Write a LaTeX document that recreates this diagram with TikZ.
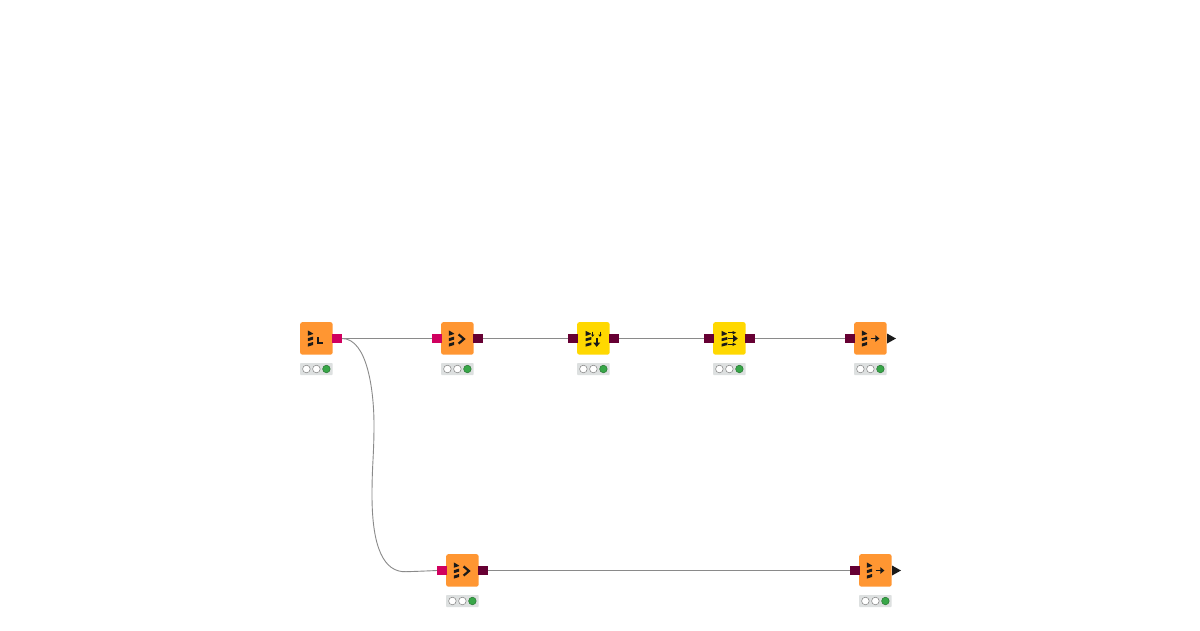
\documentclass[tikz,border=0pt]{standalone}
\usepackage{tikz}
\usetikzlibrary{calc}
\definecolor{manip}{HTML}{FF9632}
\definecolor{splitter}{HTML}{FFD800}
\definecolor{portin}{HTML}{D0005F}
\definecolor{portdark}{HTML}{660033}
\definecolor{statusbg}{HTML}{DDE0E0}
\definecolor{statusgreen}{HTML}{38A748}
\definecolor{wire}{HTML}{8A8A8A}
\definecolor{glyph}{HTML}{1A1A1A}
\tikzset{
  bodybox/.style={draw=none,rounded corners=2.4pt,minimum size=32.6pt,inner sep=0pt,outer sep=0pt},
  portbox/.style={draw=none,minimum width=10pt,minimum height=9.5pt,inner sep=0pt,outer sep=0pt},
  statusbar/.style={fill=statusbg,draw=none,rounded corners=.8pt,minimum width=32.6pt,minimum height=12pt,inner sep=0pt},
  lamp/.style={circle,draw=black!50,line width=.5pt,fill=white,minimum size=7.6pt,inner sep=0pt},
  lampon/.style={lamp,fill=statusgreen,draw=statusgreen!70!black},
  wireline/.style={draw=wire,line width=.9pt},
  column/.pic={
    \fill[glyph] (-8.6,-8) -- (-3.4,-5) -- (-3.4,-4.4) -- (-8.6,-2.6) -- cycle;
    \fill[glyph] (-8.6,-.2) -- (-3.4,-1.8) -- (-3.4,1.2) -- (-8.6,2.8) -- cycle;
    \fill[glyph] (-8.6,5.2) -- (-3.4,3.6) -- (-3.4,6.6) -- (-8.6,8.2) -- cycle;
  },
  smallcolumn/.pic={
    \fill[glyph] (-7.8,-7.6) -- (-2.6,-5) -- (-2.6,-4.2) -- (-7.8,-2.4) -- cycle;
    \fill[glyph] (-7.8,0) -- (-2,-1.4) -- (-2,1.2) -- (-7.8,2.8) -- cycle;
    \fill[glyph] (-7.8,5.4) -- (-2,4) -- (-2,6.6) -- (-7.8,8.2) -- cycle;
  }
}
% status bar with three lamps under a node
\newcommand{\statuslamps}[1]{
\node[statusbar] (#1bar) at ($(#1)+(0,30.6)$) {};
\node[lamp] (#1a) at ($(#1bar)+(-10,0)$) {};
\node[lamp] (#1b) at (#1bar) {};
\node[lampon] (#1c) at ($(#1bar)+(10,0)$) {};
}
\begin{document}
\begin{tikzpicture}[x=1pt,y=-1pt]
\useasboundingbox[fill=white] (0,0) rectangle (1200,630);

% upper row
\node[bodybox,fill=manip] (source) at (316.4,338.4) {};
\node[bodybox,fill=manip] (filterone) at (457.4,338.4) {};
\node[bodybox,fill=splitter] (splitdown) at (593.4,338.4) {};
\node[bodybox,fill=splitter] (splitright) at (729.4,338.4) {};
\node[bodybox,fill=manip] (writerone) at (870.4,338.4) {};
% lower row
\node[bodybox,fill=manip] (filtertwo) at (462.4,570.4) {};
\node[bodybox,fill=manip] (writertwo) at (875.4,570.4) {};

\statuslamps{source}
\statuslamps{filterone}
\statuslamps{splitdown}
\statuslamps{splitright}
\statuslamps{writerone}
\statuslamps{filtertwo}
\statuslamps{writertwo}

% ports
\node[portbox,fill=portin] (sourceout) at ($(source)+(20.6,0.1)$) {};
\node[portbox,fill=portin] (filteronein) at ($(filterone)-(20.6,-0.1)$) {};
\node[portbox,fill=portdark] (filteroneout) at ($(filterone)+(20.6,0.1)$) {};
\node[portbox,fill=portdark] (splitdownin) at ($(splitdown)-(20.6,-0.1)$) {};
\node[portbox,fill=portdark] (splitdownout) at ($(splitdown)+(20.6,0.1)$) {};
\node[portbox,fill=portdark] (splitrightin) at ($(splitright)-(20.6,-0.1)$) {};
\node[portbox,fill=portdark] (splitrightout) at ($(splitright)+(20.6,0.1)$) {};
\node[portbox,fill=portdark] (writeronein) at ($(writerone)-(20.6,-0.1)$) {};
\node[portbox,fill=portin] (filtertwoin) at ($(filtertwo)-(20.6,-0.1)$) {};
\node[portbox,fill=portdark] (filtertwoout) at ($(filtertwo)+(20.6,0.1)$) {};
\node[portbox,fill=portdark] (writertwoin) at ($(writertwo)-(20.6,-0.1)$) {};

\coordinate (writeronetip) at ($(writerone)+(16.6,0)$);
\coordinate (writertwotip) at ($(writertwo)+(16.6,0)$);
\foreach \t in {writeronetip,writertwotip}
  \fill[glyph] ($(\t)+(0,-4.9)$) -- ($(\t)+(9,0.1)$) -- ($(\t)+(0,5.1)$) -- cycle;

% connectors
\draw[wireline] (sourceout.east) -- (filteronein.west);
\draw[wireline] (filteroneout.east) -- (splitdownin.west);
\draw[wireline] (splitdownout.east) -- (splitrightin.west);
\draw[wireline] (splitrightout.east) -- (writeronein.west);
\draw[wireline] (filtertwoout.east) -- (writertwoin.west);
\draw[wireline] (sourceout.east) .. controls +(26,0) and +(0,-32) .. (374,425)
  .. controls (374,455) and (372,465) .. (372,495)
  .. controls (372,548) and (384,572.5) .. (406,571.7)
  .. controls (416,571.4) and (426,571) .. (filtertwoin.west);

% icons
\foreach \n in {source,filterone,writerone,filtertwo,writertwo}
  \path (\n) pic {column};
\foreach \n in {splitdown,splitright}
  \path (\n) pic {smallcolumn};

% L on the source
\draw[glyph,line width=2.2pt] ($(source)+(1.6,-1.4)$) -- ($(source)+(1.6,4.2)$) -- ($(source)+(6.4,4.2)$);
% chevrons
\foreach \n in {filterone,filtertwo}
  \draw[glyph,line width=2.2pt] ($(\n)+(1.2,-4)$) -- ($(\n)+(6.6,.6)$) -- ($(\n)+(1.2,5.2)$);
% right arrows
\foreach \n in {writerone,writertwo} {
  \draw[glyph,line width=1.7pt] ($(\n)+(.3,0.1)$) -- ($(\n)+(6,0.1)$);
  \fill[glyph] ($(\n)+(5,-3.2)$) -- ($(\n)+(9,0.1)$) -- ($(\n)+(5,3.4)$) -- cycle;
}
% split down
\draw[glyph,line width=1.7pt] ($(splitdown)+(3.3,-.4)$) -- ($(splitdown)+(3.3,5)$);
\fill[glyph] ($(splitdown)+(-.2,4.2)$) -- ($(splitdown)+(6.8,4.2)$) -- ($(splitdown)+(3.3,8.4)$) -- cycle;
\foreach \dx in {-.7,6.6} {
  \draw[glyph,line width=.9pt] ($(splitdown)+(\dx,-6.8)$) -- ($(splitdown)+(\dx,-3.4)$);
  \fill[glyph] ($(splitdown)+(\dx-1.7,-3.8)$) -- ($(splitdown)+(\dx+1.7,-3.8)$) -- ($(splitdown)+(\dx,-1.6)$) -- cycle;
}
% split right
\draw[glyph,line width=1.7pt] ($(splitright)+(-1.4,0.1)$) -- ($(splitright)+(4.5,0.1)$);
\fill[glyph] ($(splitright)+(3.8,-3.4)$) -- ($(splitright)+(8.4,0.1)$) -- ($(splitright)+(3.8,3.6)$) -- cycle;
\foreach \dy in {-5.7,5.9} {
  \draw[glyph,line width=.9pt] ($(splitright)+(-1,\dy)$) -- ($(splitright)+(3.6,\dy)$);
  \fill[glyph] ($(splitright)+(3.2,\dy-1.7)$) -- ($(splitright)+(6.8,\dy)$) -- ($(splitright)+(3.2,\dy+1.7)$) -- cycle;
}
\end{tikzpicture}
\end{document}
